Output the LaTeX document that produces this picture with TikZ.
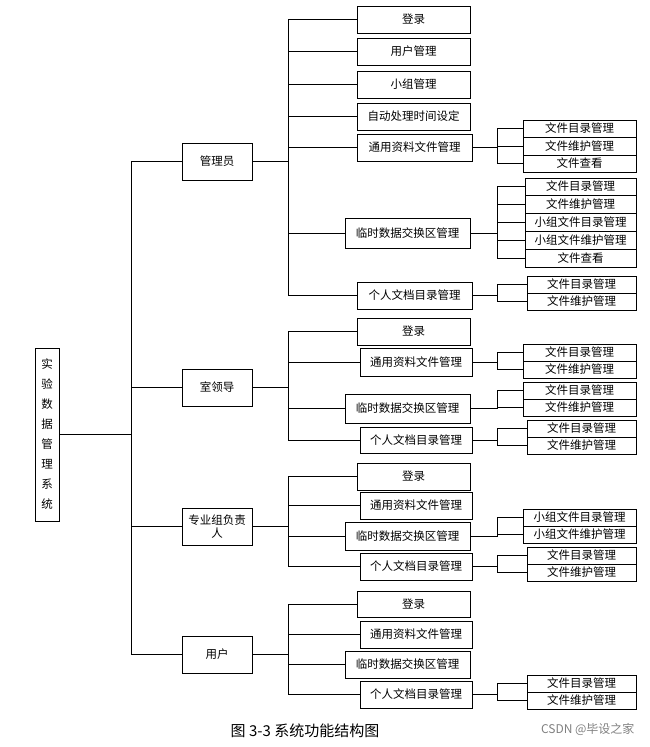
\documentclass[tikz,border=0pt]{standalone}
\usepackage{fontspec}
\setmainfont{Liberation Serif}
\newfontfamily\cjk{Noto Sans CJK SC}
\begin{document}
\begin{tikzpicture}[x=1pt,y=-1pt,
  box/.style={draw,thin,inner sep=0pt,font=\cjk\fontsize{11.5}{13}\selectfont,align=center},
  ln/.style={draw,thin}]
\useasboundingbox (0,0) rectangle (649,747);
\newcommand\bx[6]{\node[box,minimum width={(#4-#2)*1pt},minimum height={(#5-#3)*1pt}] (#1) at ({(#2+#4)/2},{(#3+#5)/2}) {#6};}
\newcommand\cn[3]{\draw[ln] (#1.east) -- ++(#3,0) |- (#2.west);}
\node[box,font=\cjk\fontsize{11.5}{20}\selectfont,minimum width=24pt,minimum height=173pt] (root) at (47,434.5) {实\\验\\数\\据\\管\\理\\系\\统};
\bx{a}{182}{143}{252}{180}{管理员}
\bx{b}{182}{369}{252}{406}{室领导}
\bx{c}{182}{508}{252}{545}{专业组负责\\人}
\bx{d}{182}{636}{252}{673}{用户}
\foreach \t in {a,b,c,d}{\cn{root}{\t}{72}}
% admin
\bx{a1}{357}{6}{470}{33}{登录}
\bx{a2}{357}{38}{470}{65}{用户管理}
\bx{a3}{357}{71}{470}{98}{小组管理}
\bx{a4}{357}{103}{470}{130}{自动处理时间设定}
\bx{a5}{357}{134}{472}{161}{通用资料文件管理}
\bx{a6}{345}{218}{470}{248}{临时数据交换区管理}
\bx{a7}{357}{282}{472}{309}{个人文档目录管理}
\foreach \t in {a1,a2,a3,a4,a5,a6,a7}{\cn{a}{\t}{36}}
\bx{a51}{523}{120}{636}{137}{文件目录管理}
\bx{a52}{523}{137}{636}{155}{文件维护管理}
\bx{a53}{523}{155}{636}{172}{文件查看}
\foreach \t in {a51,a52,a53}{\cn{a5}{\t}{25}}
\bx{a61}{525}{178}{636}{195}{文件目录管理}
\bx{a62}{525}{195}{636}{213}{文件维护管理}
\bx{a63}{525}{213}{636}{231}{小组文件目录管理}
\bx{a64}{525}{231}{636}{249}{小组文件维护管理}
\bx{a65}{525}{249}{636}{267}{文件查看}
\foreach \t in {a61,a62,a63,a64,a65}{\cn{a6}{\t}{27}}
\bx{a71}{527}{276}{636}{293}{文件目录管理}
\bx{a72}{527}{293}{636}{310}{文件维护管理}
\foreach \t in {a71,a72}{\cn{a7}{\t}{25}}
% leader
\bx{b1}{357}{318}{470}{345}{登录}
\bx{b2}{360}{348}{472}{376}{通用资料文件管理}
\bx{b3}{345}{394}{470}{423}{临时数据交换区管理}
\bx{b4}{360}{427}{472}{453}{个人文档目录管理}
\foreach \t in {b1,b2,b3,b4}{\cn{b}{\t}{36}}
\bx{b21}{523}{344}{636}{361}{文件目录管理}
\bx{b22}{523}{361}{636}{378}{文件维护管理}
\foreach \t in {b21,b22}{\cn{b2}{\t}{25}}
\bx{b31}{523}{382}{636}{399}{文件目录管理}
\bx{b32}{523}{399}{636}{416}{文件维护管理}
\foreach \t in {b31,b32}{\cn{b3}{\t}{27}}
\bx{b41}{527}{420}{636}{437}{文件目录管理}
\bx{b42}{527}{437}{636}{454}{文件维护管理}
\foreach \t in {b41,b42}{\cn{b4}{\t}{25}}
% group head
\bx{c1}{357}{463}{470}{490}{登录}
\bx{c2}{360}{492}{472}{519}{通用资料文件管理}
\bx{c3}{345}{522}{470}{550}{临时数据交换区管理}
\bx{c4}{360}{553}{472}{580}{个人文档目录管理}
\foreach \t in {c1,c2,c3,c4}{\cn{c}{\t}{36}}
\bx{c31}{523}{509}{636}{526}{小组文件目录管理}
\bx{c32}{523}{526}{636}{543}{小组文件维护管理}
\foreach \t in {c31,c32}{\cn{c3}{\t}{27}}
\bx{c41}{527}{547}{636}{564}{文件目录管理}
\bx{c42}{527}{564}{636}{581}{文件维护管理}
\foreach \t in {c41,c42}{\cn{c4}{\t}{25}}
% user
\bx{d1}{357}{591}{470}{617}{登录}
\bx{d2}{360}{621}{472}{648}{通用资料文件管理}
\bx{d3}{345}{651}{470}{678}{临时数据交换区管理}
\bx{d4}{360}{681}{472}{708}{个人文档目录管理}
\foreach \t in {d1,d2,d3,d4}{\cn{d}{\t}{36}}
\bx{d41}{527}{675}{636}{692}{文件目录管理}
\bx{d42}{527}{692}{636}{709}{文件维护管理}
\foreach \t in {d41,d42}{\cn{d4}{\t}{25}}
\node[font=\cjk\fontsize{15}{17}\selectfont] (cap) at (305,731) {图 3-3 系统功能结构图};
\node[font=\cjk\fontsize{12}{14}\selectfont,text=gray,anchor=east] (wm) at (638,729) {CSDN @毕设之家};
\end{tikzpicture}
\end{document}
